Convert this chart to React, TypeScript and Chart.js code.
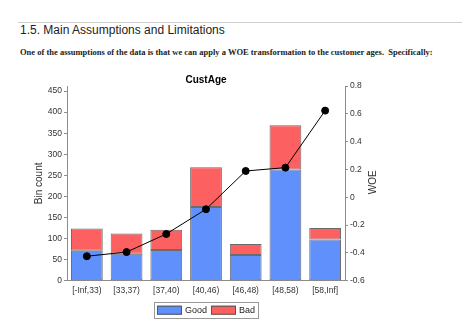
import React, { useEffect, useRef } from "react";
import { Chart, registerables } from "chart.js";

Chart.register(...registerables);

const categories = ["[-Inf,33)", "[33,37)", "[37,40)", "[40,46)", "[46,48)", "[48,58)", "[58,Inf]"];
const goodCounts = [71, 64, 73, 175, 61, 264, 98];
const badCounts = [53, 48, 48, 94, 26, 105, 27];
const woeValues = [-0.424, -0.394, -0.264, -0.086, 0.189, 0.213, 0.623];
const leftMax = 462;
const leftTicks = [0, 50, 100, 150, 200, 250, 300, 350, 400, 450];
const rightMin = -0.6;
const rightMax = 0.8;
const rightStep = 0.2;

const FONT = "Liberation Sans, Arial, sans-serif";
const GRAY = "#8c8c8c";

const decorPlugin = {
  id: "decor",
  afterDraw(chart: any) {
    const { ctx, chartArea } = chart;
    const cx = (chartArea.left + chartArea.right) / 2;
    ctx.save();
    // Title
    ctx.fillStyle = "#000";
    ctx.font = `bold 10px ${FONT}`;
    ctx.textAlign = "center";
    ctx.textBaseline = "middle";
    ctx.fillText("CustAge", cx, chartArea.top - 6);
    // Right axis title (reads bottom-to-top)
    ctx.save();
    ctx.translate(chartArea.right + 28, (chartArea.top + chartArea.bottom) / 2 - 1);
    ctx.rotate(-Math.PI / 2);
    ctx.font = `10px ${FONT}`;
    ctx.fillStyle = "#333";
    ctx.fillText("WOE", 0, 0);
    ctx.restore();
    // Legend with box
    const items = chart.data.datasets.filter((d: any) => d.type !== "line");
    ctx.font = `9px ${FONT}`;
    const boxW = 25, boxH = 9, gap = 3, spacing = 4, pad = 2;
    const widths = items.map((d: any) => boxW + gap + ctx.measureText(d.label).width);
    const total = pad * 2 + widths.reduce((a: number, b: number) => a + b, 0) + spacing * (items.length - 1) + 2;
    let x = cx - total / 2;
    const yc = chartArea.bottom + 29.5;
    ctx.strokeStyle = "#999";
    ctx.lineWidth = 1;
    ctx.strokeRect(Math.round(x) + 0.5, Math.round(yc - 8.5) + 0.5, Math.round(total), 16);
    x += pad + 1;
    items.forEach((d: any, i: number) => {
      ctx.fillStyle = d.backgroundColor;
      ctx.fillRect(x, yc - boxH / 2, boxW, boxH);
      ctx.strokeStyle = "#555";
      ctx.strokeRect(x + 0.5, yc - boxH / 2 + 0.5, boxW - 1, boxH - 1);
      ctx.fillStyle = "#222";
      ctx.textAlign = "left";
      ctx.textBaseline = "middle";
      ctx.fillText(d.label, x + boxW + gap, yc + 0.5);
      x += widths[i] + spacing;
    });
    ctx.restore();
  },
};

export default function App() {
  const ref = useRef<HTMLCanvasElement>(null);
  useEffect(() => {
    if (!ref.current) return;
    const chart = new Chart(ref.current, {
      type: "bar",
      data: {
        labels: categories,
        datasets: [
          {
            type: "line",
            label: "WOE",
            data: woeValues,
            yAxisID: "y1",
            borderColor: "#000",
            backgroundColor: "#000",
            borderWidth: 1,
            pointRadius: 3.5,
            pointBackgroundColor: "#000",
            order: 0,
          } as any,
          {
            type: "bar",
            label: "Good",
            data: goodCounts,
            backgroundColor: "#5f90fb",
            borderColor: "#6b6b6b",
            borderWidth: 1,
            borderSkipped: false,
            categoryPercentage: 0.8,
            barPercentage: 1,
            yAxisID: "y",
            order: 1,
          },
          {
            type: "bar",
            label: "Bad",
            data: badCounts,
            backgroundColor: "#fc6060",
            borderColor: "#6b6b6b",
            borderWidth: 1,
            borderSkipped: false,
            categoryPercentage: 0.8,
            barPercentage: 1,
            yAxisID: "y",
            order: 1,
          },
        ],
      },
      options: {
        responsive: false,
        animation: false,
        layout: { padding: { left: 0, right: 89, top: 20, bottom: 31.3 } },
        plugins: { legend: { display: false }, tooltip: { enabled: false }, title: { display: false } },
        scales: {
          x: {
            stacked: true,
            offset: true,
            grid: { display: true, drawOnChartArea: false, drawTicks: false, color: GRAY },
            border: { color: GRAY },
            ticks: { color: "#333", font: { family: FONT, size: 8.5 }, padding: 5, maxRotation: 0, autoSkip: false },
            afterFit: (s: any) => { s.height = 20; },
          },
          y: {
            stacked: true,
            position: "left",
            min: 0,
            max: leftMax,
            ticks: { color: "#333", font: { family: FONT, size: 8.5 }, padding: 2 },
            afterBuildTicks: (s: any) => { s.ticks = leftTicks.map((v) => ({ value: v })); },
            grid: { drawOnChartArea: false, tickLength: 3, color: GRAY },
            border: { color: GRAY },
            title: { display: true, text: "Bin count", color: "#333", font: { family: FONT, size: 10 }, padding: { top: 33, bottom: 0 } },
            afterFit: (s: any) => { s.width = 67; },
          },
          y1: {
            position: "right",
            min: rightMin,
            max: rightMax,
            ticks: {
              stepSize: rightStep,
              color: "#333",
              font: { family: FONT, size: 8.5 },
              padding: 2,
              callback: (v: any) => String(parseFloat(Number(v).toFixed(1))),
            },
            grid: { drawOnChartArea: false, tickLength: 3, color: GRAY },
            border: { color: GRAY },
            afterFit: (s: any) => { s.width = 40; },
          },
        },
      },
      plugins: [decorPlugin],
    });
    return () => chart.destroy();
  }, []);

  return (
    <div style={{ position: "absolute", left: 0, top: 0, width: 474, height: 332, overflow: "hidden", background: "#fff" }}>
      <div style={{ position: "absolute", left: 18, top: 22, width: 444, height: 1, background: "#cfcfcf" }} />
      <div style={{ position: "absolute", left: 20, top: 23, fontFamily: FONT, fontSize: 12, color: "#222", whiteSpace: "nowrap", lineHeight: "15px" }}>
        1.5. Main Assumptions and Limitations
      </div>
      <div style={{ position: "absolute", left: 20, top: 47, fontFamily: "Liberation Serif, serif", fontWeight: "bold", fontSize: 8.5, color: "#222", whiteSpace: "nowrap", lineHeight: "11px" }}>
        One of the assumptions of the data is that we can apply a WOE transformation to the customer ages.&nbsp; Specifically:
      </div>
      <canvas ref={ref} width={474} height={266} style={{ position: "absolute", left: 0, top: 66, width: 474, height: 266 }} />
    </div>
  );
}
